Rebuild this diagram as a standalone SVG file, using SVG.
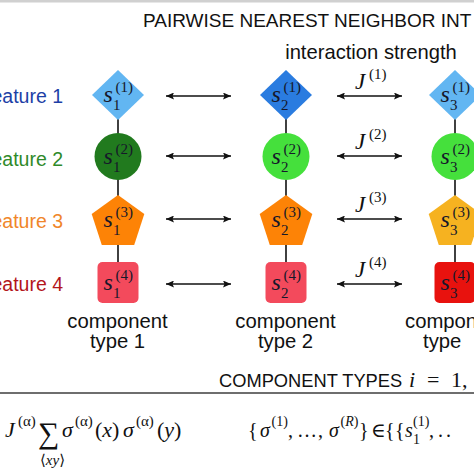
<svg xmlns="http://www.w3.org/2000/svg" width="474" height="474" viewBox="0 0 474 474">
<style>
.sans{font-family:"Liberation Sans",Arial,Helvetica,sans-serif;fill:#111}
.m{font-family:"Liberation Serif","Times New Roman","DejaVu Serif",serif;fill:#111}
.it{font-style:italic}
.lbl{font-family:"Liberation Serif","Times New Roman",serif;fill:#16182a}
.lbl .s{font-style:italic;font-size:24px}
.lbl .sup,.lbl .sub{font-size:15px}
.arr{stroke:#111;stroke-width:1.5;fill:none;marker-start:url(#ah);marker-end:url(#ah)}
.vl{stroke:#111;stroke-width:1.6}
.feat{font-family:"Liberation Sans",Arial,Helvetica,sans-serif;font-size:19.5px;text-anchor:end}
.col{font-family:"Liberation Sans",Arial,Helvetica,sans-serif;font-size:20.3px;fill:#111}
.J{font-style:italic;font-size:23px}
.Js{font-size:15px}
</style>
<defs>
<marker id="ah" viewBox="0 0 8 7" refX="8" refY="3.5" markerWidth="8" markerHeight="7" markerUnits="userSpaceOnUse" orient="auto-start-reverse">
<path d="M0,0 L8,3.5 L0,7 L1.5,3.5 z" fill="#111"/>
</marker>
</defs>
<rect x="0" y="0" width="474" height="2.5" fill="#d0d0d0"/>
<text class="sans" x="143" y="27" font-size="19">PAIRWISE NEAREST NEIGHBOR INT</text>
<text class="sans" x="371" y="59" font-size="20.2" text-anchor="middle">interaction strength</text>
<g id="features">
<text class="feat" x="63" y="103" fill="#1d3fa6">eature 1</text>
<text class="feat" x="63" y="166" fill="#2f8a2a">eature 2</text>
<text class="feat" x="63" y="228" fill="#f0862a">eature 3</text>
<text class="feat" x="63" y="291" fill="#b3151b">eature 4</text>
</g>
<g id="connectors">
<line class="vl" x1="118" y1="100" x2="118" y2="275"/>
<line class="vl" x1="286" y1="100" x2="286" y2="275"/>
<line class="vl" x1="455" y1="100" x2="455" y2="275"/>
<line class="arr" x1="166" y1="96" x2="231" y2="96"/>
<line class="arr" x1="337" y1="96" x2="402" y2="96"/>
<line class="arr" x1="166" y1="156" x2="231" y2="156"/>
<line class="arr" x1="337" y1="156" x2="402" y2="156"/>
<line class="arr" x1="166" y1="219" x2="231" y2="219"/>
<line class="arr" x1="337" y1="219" x2="402" y2="219"/>
<line class="arr" x1="166" y1="284" x2="231" y2="284"/>
<line class="arr" x1="337" y1="284" x2="402" y2="284"/>
</g>
<g id="couplings" class="m">
<text><tspan class="J" x="355" y="89">J</tspan><tspan class="Js" x="369" y="79">(1)</tspan></text>
<text><tspan class="J" x="355" y="149">J</tspan><tspan class="Js" x="369" y="139">(2)</tspan></text>
<text><tspan class="J" x="355" y="212">J</tspan><tspan class="Js" x="369" y="202">(3)</tspan></text>
<text><tspan class="J" x="355" y="277">J</tspan><tspan class="Js" x="369" y="267">(4)</tspan></text>
</g>
<!-- column 1 -->
<g id="s1-1"><polygon points="118,70 144,95 118,120 92,95" fill="#62b6f2"/>
<text class="lbl"><tspan class="s" x="103.5" y="102">s</tspan><tspan class="sup" x="115.5" y="92">(1)</tspan><tspan class="sub" x="113" y="110">1</tspan></text></g>
<g id="s1-2"><circle cx="118" cy="156.5" r="23.5" fill="#217a1e"/>
<text class="lbl"><tspan class="s" x="103.5" y="163.5">s</tspan><tspan class="sup" x="115.5" y="153.5">(2)</tspan><tspan class="sub" x="113" y="171.5">1</tspan></text></g>
<g id="s1-3"><polygon points="118,195 144.3,214.1 134.2,244.9 101.8,244.9 91.7,214.1" fill="#fd8306"/>
<text class="lbl"><tspan class="s" x="103.5" y="227">s</tspan><tspan class="sup" x="115.5" y="217">(3)</tspan><tspan class="sub" x="113" y="235">1</tspan></text></g>
<g id="s1-4"><rect x="97.5" y="262" width="41" height="41" rx="5" fill="#f34a5c"/>
<text class="lbl"><tspan class="s" x="103.5" y="289.5">s</tspan><tspan class="sup" x="115.5" y="279.5">(4)</tspan><tspan class="sub" x="113" y="297.5">1</tspan></text></g>
<!-- column 2 -->
<g id="s2-1"><polygon points="286,70 312,95 286,120 260,95" fill="#2a7ce0"/>
<text class="lbl"><tspan class="s" x="271.5" y="102">s</tspan><tspan class="sup" x="283.5" y="92">(1)</tspan><tspan class="sub" x="281" y="110">2</tspan></text></g>
<g id="s2-2"><circle cx="286" cy="156.5" r="23.5" fill="#45e03c"/>
<text class="lbl"><tspan class="s" x="271.5" y="163.5">s</tspan><tspan class="sup" x="283.5" y="153.5">(2)</tspan><tspan class="sub" x="281" y="171.5">2</tspan></text></g>
<g id="s2-3"><polygon points="286,195 312.3,214.1 302.2,244.9 269.8,244.9 259.7,214.1" fill="#fd8306"/>
<text class="lbl"><tspan class="s" x="271.5" y="227">s</tspan><tspan class="sup" x="283.5" y="217">(3)</tspan><tspan class="sub" x="281" y="235">2</tspan></text></g>
<g id="s2-4"><rect x="265.5" y="262" width="41" height="41" rx="5" fill="#f34a5c"/>
<text class="lbl"><tspan class="s" x="271.5" y="289.5">s</tspan><tspan class="sup" x="283.5" y="279.5">(4)</tspan><tspan class="sub" x="281" y="297.5">2</tspan></text></g>
<!-- column 3 -->
<g id="s3-1"><polygon points="455,70 481,95 455,120 429,95" fill="#62b6f2"/>
<text class="lbl"><tspan class="s" x="440.5" y="102">s</tspan><tspan class="sup" x="452.5" y="92">(1)</tspan><tspan class="sub" x="450" y="110">3</tspan></text></g>
<g id="s3-2"><circle cx="455" cy="156.5" r="23.5" fill="#45e03c"/>
<text class="lbl"><tspan class="s" x="440.5" y="163.5">s</tspan><tspan class="sup" x="452.5" y="153.5">(2)</tspan><tspan class="sub" x="450" y="171.5">3</tspan></text></g>
<g id="s3-3"><polygon points="455,195 481.3,214.1 471.2,244.9 438.8,244.9 428.7,214.1" fill="#f6b220"/>
<text class="lbl"><tspan class="s" x="440.5" y="227">s</tspan><tspan class="sup" x="452.5" y="217">(3)</tspan><tspan class="sub" x="450" y="235">3</tspan></text></g>
<g id="s3-4"><rect x="434.5" y="262" width="41" height="41" rx="5" fill="#e8120e"/>
<text class="lbl"><tspan class="s" x="440.5" y="289.5">s</tspan><tspan class="sup" x="452.5" y="279.5">(4)</tspan><tspan class="sub" x="450" y="297.5">3</tspan></text></g>
<g id="column-labels">
<text class="col" x="117.5" y="328" text-anchor="middle">component</text>
<text class="col" x="117.5" y="348" text-anchor="middle">type 1</text>
<text class="col" x="285.5" y="328" text-anchor="middle">component</text>
<text class="col" x="285.5" y="348" text-anchor="middle">type 2</text>
<text class="col" x="405" y="328">component</text>
<text class="col" x="423" y="348">type</text>
</g>
<text class="sans" y="387" font-size="18.3"><tspan x="219">COMPONENT TYPES</tspan><tspan class="m it" x="409" font-size="22">i</tspan><tspan class="m" x="427" font-size="22">=</tspan><tspan class="m" x="451" font-size="22">1,</tspan></text>
<line x1="0" y1="393" x2="474" y2="393" stroke="#6e6e6e" stroke-width="1.8"/>
<g id="hamiltonian" class="m">
<text font-size="22"><tspan class="it" x="5" y="437">J</tspan><tspan x="18" y="426" font-size="15">(α)</tspan><tspan x="38" y="443" font-size="30">∑</tspan><tspan class="it" x="62" y="437">σ</tspan><tspan x="75" y="426" font-size="15">(α)</tspan><tspan x="95" y="437">(<tspan class="it">x</tspan>)</tspan><tspan class="it" x="123">σ</tspan><tspan x="136" y="426" font-size="15">(α)</tspan><tspan x="157" y="437">(<tspan class="it">y</tspan>)</tspan></text>
<text x="40" y="465" font-size="15">⟨<tspan class="it">xy</tspan>⟩</text>
</g>
<g id="set" class="m">
<text font-size="20"><tspan x="248" y="437">{</tspan><tspan class="it" x="260">σ</tspan><tspan x="271.5" y="426" font-size="14">(1)</tspan><tspan x="288" y="437">,</tspan><tspan x="297">…</tspan><tspan x="318">,</tspan><tspan class="it" x="329">σ</tspan><tspan x="340.5" y="426" font-size="14">(<tspan class="it">R</tspan>)</tspan><tspan x="359" y="437">}</tspan><tspan x="371">∈</tspan><tspan x="385">{</tspan><tspan x="395">{</tspan><tspan class="it" x="405">s</tspan><tspan x="413" y="426" font-size="14">(1)</tspan><tspan x="413" y="444" font-size="14">1</tspan><tspan x="429" y="437">,</tspan><tspan x="438" letter-spacing="3">..</tspan></text>
</g>
</svg>
